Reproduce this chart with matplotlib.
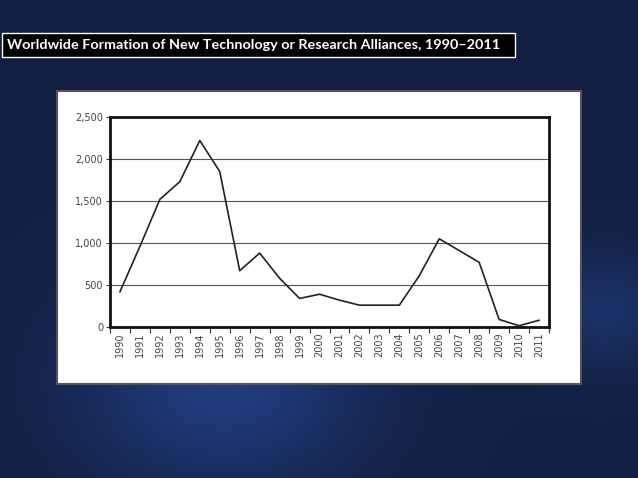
import matplotlib
matplotlib.use("Agg")
import matplotlib.pyplot as plt
import numpy as np
from matplotlib.patches import Rectangle

years = [str(y) for y in range(1990, 2012)]
alliances = [420, 960, 1520, 1730, 2220, 1850, 670, 880, 580, 340, 390, 320,
             260, 260, 260, 610, 1050, 910, 770, 90, 15, 80]
yticks = [0, 500, 1000, 1500, 2000, 2500]
title = "Worldwide Formation of New Technology or Research Alliances, 1990\u20132011"

W, H = 638, 478
fig = plt.figure(figsize=(W/100, H/100), dpi=100)

bg = fig.add_axes([0, 0, 1, 1])
yy, xx = np.mgrid[0:1:200j, 0:1:200j]
g = 0.15 + 0.5*np.exp(-((xx-0.35)**2 + (yy-0.2)**2)/0.05) + 0.3*np.exp(-((xx-0.95)**2+(yy-0.35)**2)/0.015)
base = np.array([0.05, 0.09, 0.19])
img = np.clip(base[None, None, :] * (1 + 2.5*g[..., None]), 0, 1)
bg.imshow(img, extent=[0, 1, 0, 1], origin="lower", aspect="auto")
bg.set_xlim(0, 1); bg.set_ylim(0, 1); bg.axis("off")

bg.add_patch(Rectangle((57/W, 1-384/H), (581-57)/W, (384-91)/H, facecolor="white",
                       edgecolor="#555555", lw=1.5, zorder=2))
bg.add_patch(Rectangle((2/W, 1-57/H), (515-2)/W, 24/H, facecolor="black",
                       edgecolor="white", lw=1, zorder=3))
bg.text(7/W, 1-45/H, title, color="white", fontsize=10.4, fontweight="bold",
        family="Lato", va="center", ha="left", zorder=4)

ax = fig.add_axes([110/W, 1-327/H, (549-110)/W, (327-117)/H])
x = np.arange(len(years))
ax.plot(x, alliances, color="#222222", lw=1.2)
ax.set_xlim(-0.5, len(years)-0.5)
ax.set_ylim(0, 2500)
ax.set_yticks(yticks)
ax.set_yticklabels([f"{v:,}" for v in yticks], fontsize=7, color="#444444")
ax.set_xticks(np.arange(-0.5, len(years)), minor=False)
ax.set_xticklabels([])
ax.set_xticks(x, minor=True)
ax.set_xticklabels(years, minor=True, rotation=90, fontsize=7, color="#444444")
ax.tick_params(axis="x", which="minor", length=0, pad=4)
ax.tick_params(axis="x", which="major", length=4, color="#333333")
ax.tick_params(axis="y", length=3, color="#333333", pad=2)
ax.grid(axis="y", color="#555555", lw=0.8)
for s in ax.spines.values():
    s.set_linewidth(2)
    s.set_color("#111111")

fig.savefig("out.png", dpi=100)
